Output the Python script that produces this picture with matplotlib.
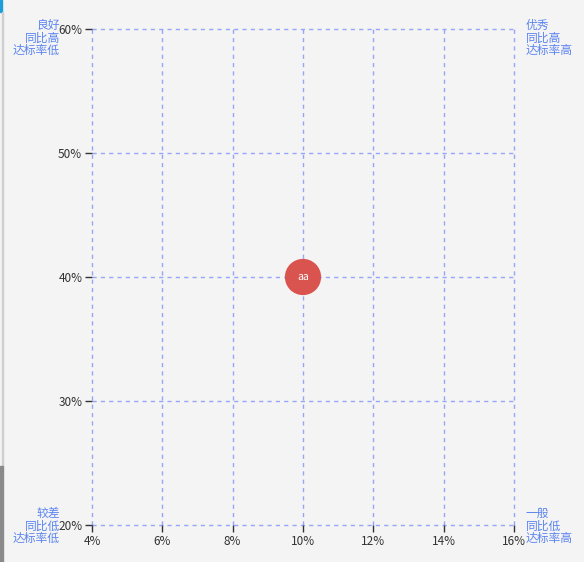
import matplotlib
matplotlib.use("Agg")
import matplotlib.pyplot as plt
from matplotlib.patches import Rectangle

plt.rcParams['font.family'] = ['Noto Sans CJK SC', 'DejaVu Sans']

# data
names = ['aa']
growth = [10]        # x, %
rate = [40]          # y, %
x_ticks = [4, 6, 8, 10, 12, 14, 16]
y_ticks = [20, 30, 40, 50, 60]
quad_labels = {
    'tl': '良好\n同比高\n达标率低',
    'tr': '优秀\n同比高\n达标率高',
    'bl': '较差\n同比低\n达标率低',
    'br': '一般\n同比低\n达标率高',
}

bg = '#f4f4f4'
grid_c = '#98a4f8'
lab_c = '#5b84f0'
txt_c = '#333333'

W, H = 584, 562
fig = plt.figure(figsize=(W / 100, H / 100), dpi=100, facecolor=bg)
# axes area in pixels: x 92..514, y 29..525
ax = fig.add_axes([92 / W, 1 - 525 / H, (514 - 92) / W, (525 - 29) / H])
ax.set_facecolor(bg)

ax.set_xlim(4, 16)
ax.set_ylim(20, 60)
ax.set_xticks(x_ticks)
ax.set_yticks(y_ticks)
ax.set_xticklabels([f'{v}%' for v in x_ticks])
ax.set_yticklabels([f'{v}%' for v in y_ticks])
ax.tick_params(colors=txt_c, labelsize=8.5, length=5, width=1, pad=2)

for s in ax.spines.values():
    s.set_visible(False)

for v in x_ticks:
    ax.axvline(v, color=grid_c, lw=1, ls=(0, (3, 3)), zorder=1, clip_on=False)
for v in y_ticks:
    ax.axhline(v, color=grid_c, lw=1, ls=(0, (3, 3)), zorder=1, clip_on=False)

ax.scatter(growth, rate, s=680, color='#d9534f', edgecolors='none', zorder=3, clip_on=False)
for n, gx, gy in zip(names, growth, rate):
    ax.text(gx, gy, n, color='white', fontsize=7.5, ha='center', va='center', zorder=4)

# quadrant labels
kw = dict(xycoords='axes fraction', textcoords='offset pixels', color=lab_c,
          fontsize=8.5, linespacing=0.95, annotation_clip=False)
ax.annotate(quad_labels['tl'], xy=(0, 1), xytext=(-32, 10), ha='right', va='top', multialignment='right', **kw)
ax.annotate(quad_labels['tr'], xy=(1, 1), xytext=(12, 10), ha='left', va='top', multialignment='left', **kw)
ax.annotate(quad_labels['bl'], xy=(0, 0), xytext=(-32, 18), ha='right', va='top', multialignment='right', **kw)
ax.annotate(quad_labels['br'], xy=(1, 0), xytext=(12, 18), ha='left', va='top', multialignment='left', **kw)

# left edge strips
fig.patches.append(Rectangle((0, 1 - 12 / H), 2 / W, 12 / H, transform=fig.transFigure, color='#1a9fd8', zorder=5))
fig.patches.append(Rectangle((2 / W, 1 - 466 / H), 1 / W, 454 / H, transform=fig.transFigure, color='#cfcfcf', zorder=5))
fig.patches.append(Rectangle((0, 0), 3 / W, 1 - 466 / H, transform=fig.transFigure, color='#8a8a8a', zorder=5))

fig.savefig('out.png', dpi=100, facecolor=bg)
